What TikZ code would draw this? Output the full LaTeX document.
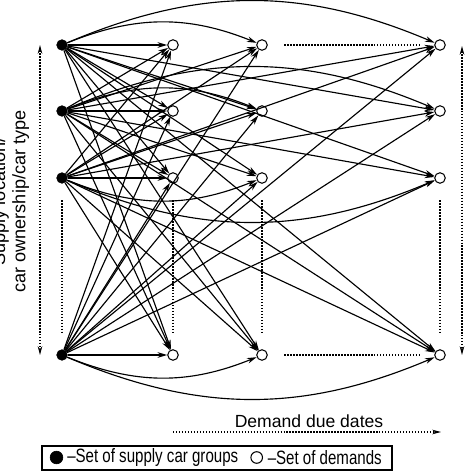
\documentclass[tikz,border=0pt]{standalone}
\usepackage{fontspec}
\setmainfont{Liberation Sans}
\usetikzlibrary{arrows.meta,positioning}

\begin{document}
\begin{tikzpicture}[x=0.02cm, y=0.02cm]
	\tikzstyle{supply} = [circle, fill=black, draw=black, inner sep=0pt, minimum size=6pt]
	\tikzstyle{demand} = [circle, fill=white, draw=black, line width=0.6pt, inner sep=0pt, minimum size=6pt]
	\tikzstyle{flow} = [draw, line width=0.65pt, -{Stealth[length=5.5pt, width=3.2pt]}]
	\tikzstyle{dots} = [draw, line width=0.6pt, dash pattern=on 0.8pt off 0.9pt]
	\tikzstyle{txt} = [font=\fontsize{10}{12}\selectfont, inner sep=0pt]
	\tikzstyle{keytxt} = [font=\fontsize{11}{12}\selectfont, inner sep=0pt, xscale=0.78]
	\useasboundingbox (0,0) rectangle (474,474);

\node[supply] (s1) at (62, 429) {};
\node[supply] (s2) at (62, 363) {};
\node[supply] (s3) at (62, 296) {};
\node[supply] (s4) at (62, 119) {};

\node[demand] (d11) at (173, 429) {};
\node[demand] (d12) at (173, 363) {};
\node[demand] (d13) at (173, 296) {};
\node[demand] (d14) at (173, 119) {};

\node[demand] (d21) at (262, 429) {};
\node[demand] (d22) at (262, 363) {};
\node[demand] (d23) at (262, 296) {};
\node[demand] (d24) at (262, 119) {};

\node[demand] (d31) at (440, 429) {};
\node[demand] (d32) at (440, 363) {};
\node[demand] (d33) at (440, 296) {};
\node[demand] (d34) at (440, 119) {};

	% first supply group
	\path[flow] (s1) -- (d11);
	\path[flow] (s1) -- (d12);
	\path[flow] (s1) -- (d13);
	\path[flow] (s1) -- (d14);
	\path[flow] (s1) to[bend left=22] (d21);
	\path[flow] (s1) -- (d22);
	\path[flow] (s1) -- (d23);
	\path[flow] (s1) -- (d24);
	\path[flow] (s1) to[bend left=23] (d31);
	\path[flow] (s1) -- (d32);
	\path[flow] (s1) -- (d33);
	\path[flow] (s1) -- (d34);

	% second supply group
	\path[flow] (s2) -- (d11);
	\path[flow] (s2) -- (d12);
	\path[flow] (s2) -- (d13);
	\path[flow] (s2) -- (d14);
	\path[flow] (s2) -- (d21);
	\path[flow] (s2) to[bend left=22] (d22);
	\path[flow] (s2) -- (d23);
	\path[flow] (s2) -- (d24);
	\path[flow] (s2) -- (d31);
	\path[flow] (s2) to[bend left=23] (d32);
	\path[flow] (s2) -- (d33);
	\path[flow] (s2) -- (d34);

	% third supply group
	\path[flow] (s3) -- (d11);
	\path[flow] (s3) -- (d12);
	\path[flow] (s3) -- (d13);
	\path[flow] (s3) -- (d14);
	\path[flow] (s3) -- (d21);
	\path[flow] (s3) -- (d22);
	\path[flow] (s3) to[bend right=22] (d23);
	\path[flow] (s3) -- (d24);
	\path[flow] (s3) -- (d31);
	\path[flow] (s3) -- (d32);
	\path[flow] (s3) to[bend right=23] (d33);
	\path[flow] (s3) -- (d34);

	% last supply group
	\path[flow] (s4) -- (d11);
	\path[flow] (s4) -- (d12);
	\path[flow] (s4) -- (d13);
	\path[flow] (s4) -- (d14);
	\path[flow] (s4) -- (d21);
	\path[flow] (s4) -- (d22);
	\path[flow] (s4) -- (d23);
	\path[flow] (s4) to[bend right=22] (d24);
	\path[flow] (s4) -- (d31);
	\path[flow] (s4) -- (d32);
	\path[flow] (s4) -- (d33);
	\path[flow] (s4) to[bend right=23] (d34);

	% dotted gaps
	\path[dots, shorten <=9.5pt, shorten >=9.5pt] (s3) -- (s4);
	\path[dots, shorten <=9.5pt, shorten >=9.5pt] (d13) -- (d14);
	\path[dots, shorten <=9.5pt, shorten >=9.5pt] (d23) -- (d24);
	\path[dots, shorten <=9.5pt, shorten >=9.5pt] (d33) -- (d34);
	\path[dots, shorten <=9.5pt, shorten >=8pt] (d21) -- (d31);
	\path[dots, shorten <=9.5pt, shorten >=8pt] (d24) -- (d34);

	% axes
\coordinate (lt) at (40, 429);
\coordinate (lb) at (40, 119);
\coordinate (rt) at (462, 428);
\coordinate (rb) at (462, 119);
\coordinate (t0) at (173, 42);
\coordinate (t1) at (441, 42);
	\path[dots, {Stealth[length=5pt, width=2.6pt]}-{Stealth[length=5pt, width=2.6pt]}] (lt) -- (lb);
	\path[dots, {Stealth[length=5pt, width=2.6pt]}-{Stealth[length=5pt, width=2.6pt]}] (rt) -- (rb);
	\path[dots, -{Stealth[length=5pt, width=2.6pt]}] (t0) -- (t1);
	\node[txt, font=\fontsize{10.3}{11.5}\selectfont, rotate=90, align=center] (axis) at (10.5, 272.5) {Supply location/\\car ownership/car type};
	\node[txt] (due) at (309, 53) {Demand due dates};

	% legend
	\draw[line width=0.7pt] (42, 4) rectangle (392, 28);
\node[supply, minimum size=7.2pt] (key1) at (56.5, 16.5) {};
\node[keytxt, anchor=west] (keytxt1) at (67, 16.5) {--Set of supply car groups};
\node[demand, minimum size=6.6pt] (key2) at (256.7, 16.5) {};
\node[keytxt, anchor=west] (keytxt2) at (267.5, 16.5) {--Set of demands};
\end{tikzpicture}
\end{document}
